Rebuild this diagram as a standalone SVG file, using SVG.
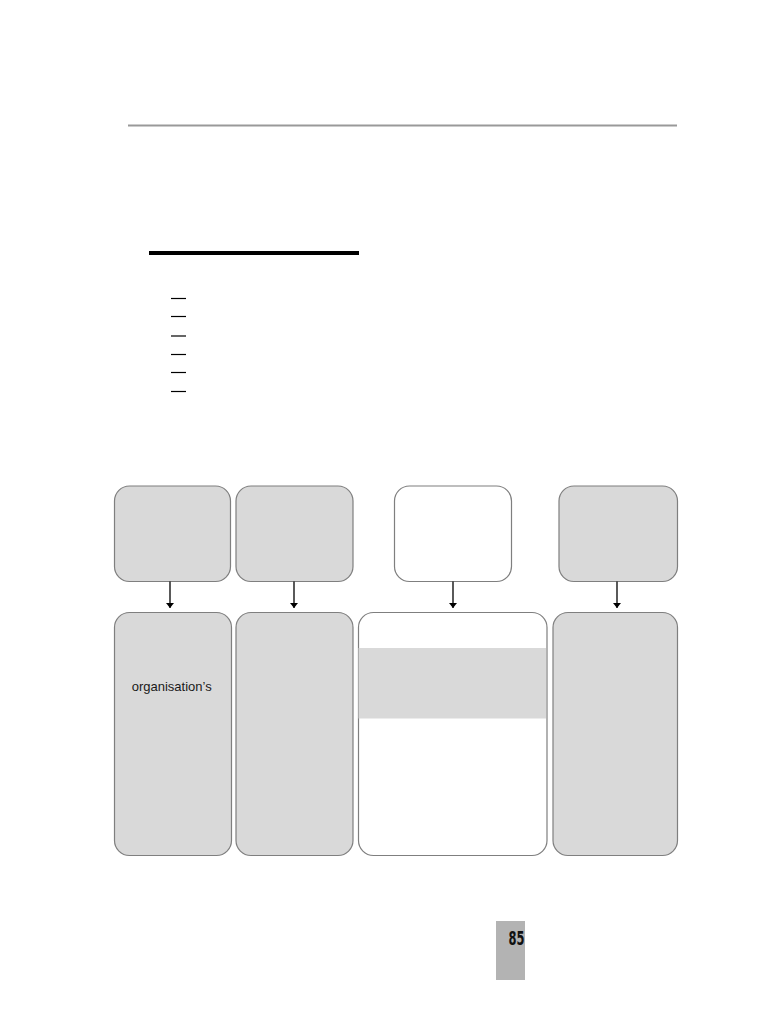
<svg xmlns="http://www.w3.org/2000/svg" width="768" height="1024" viewBox="0 0 768 1024">
<defs>
<style>
.box{fill:#d9d9d9;stroke:#7f7f7f;stroke-width:1.2}
.wbox{fill:#ffffff;stroke:#7f7f7f;stroke-width:1.2}
.conn{stroke:#000;stroke-width:1.3;fill:none}
.dash{stroke:#000;stroke-width:1.2}
.lbl{font-family:"Liberation Sans",Arial,sans-serif;font-size:13px;fill:#1a1a1a}
</style>
<marker id="ah" markerWidth="6" markerHeight="10" refX="5" refY="5" orient="auto" markerUnits="userSpaceOnUse">
<path d="M0,1 L5,5 L0,9 z" fill="#000"/>
</marker>
</defs>
<rect width="768" height="1024" fill="#fff"/>
<line x1="128" y1="125.5" x2="677" y2="125.5" stroke="#999" stroke-width="2"/>
<rect x="149" y="251" width="210" height="4" fill="#000"/>
<g id="dashes">
<line class="dash" x1="171" y1="298.5" x2="186" y2="298.5"/>
<line class="dash" x1="171" y1="316.5" x2="186" y2="316.5"/>
<line class="dash" x1="171" y1="336" x2="186" y2="336"/>
<line class="dash" x1="171" y1="354.5" x2="186" y2="354.5"/>
<line class="dash" x1="171" y1="372.5" x2="186" y2="372.5"/>
<line class="dash" x1="171" y1="391.5" x2="186" y2="391.5"/>
</g>
<g id="top1"><rect class="box" x="114.5" y="486" width="116" height="95.5" rx="15"/></g>
<g id="top2"><rect class="box" x="236" y="486" width="117" height="95.5" rx="15"/></g>
<g id="top3"><rect class="wbox" x="394.5" y="486" width="117" height="95.5" rx="15"/></g>
<g id="top4"><rect class="box" x="559" y="486" width="118.5" height="95.5" rx="15"/></g>
<g id="bot1"><rect class="box" x="114.5" y="612.5" width="117" height="243" rx="15"/>
<text class="lbl" x="171.7" y="691" text-anchor="middle">organisation’s</text></g>
<g id="bot2"><rect class="box" x="236" y="612.5" width="117" height="243" rx="15"/></g>
<g id="bot3"><rect class="wbox" x="358.5" y="612.5" width="188.5" height="243" rx="15"/>
<rect x="358.5" y="648" width="187.5" height="70.5" fill="#d9d9d9"/></g>
<g id="bot4"><rect class="box" x="553" y="612.5" width="124.5" height="243" rx="15"/></g>
<g id="connectors">
<line class="conn" x1="170" y1="581.5" x2="170" y2="608" marker-end="url(#ah)"/>
<line class="conn" x1="294" y1="581.5" x2="294" y2="608" marker-end="url(#ah)"/>
<line class="conn" x1="453" y1="581.5" x2="453" y2="608" marker-end="url(#ah)"/>
<line class="conn" x1="617" y1="581.5" x2="617" y2="608" marker-end="url(#ah)"/>
</g>
<g id="page">
<rect x="496" y="921" width="29" height="59" fill="#b3b3b3"/>
<text x="508.5" y="945" font-family="'DejaVu Sans Condensed','DejaVu Sans',sans-serif" font-weight="bold" font-size="19" textLength="16" lengthAdjust="spacingAndGlyphs" fill="#111">85</text>
</g>
</svg>
